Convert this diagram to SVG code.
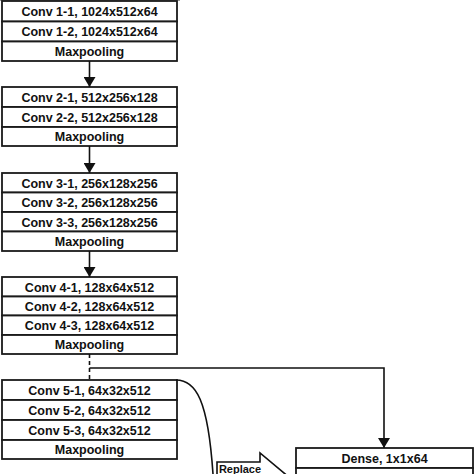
<svg xmlns="http://www.w3.org/2000/svg" width="474" height="474" viewBox="0 0 474 474">
<defs>
<style>
.box{fill:#fff;stroke:#1a1a1a;stroke-width:1.8}
.t{font-family:"Liberation Sans",Arial,sans-serif;font-weight:bold;font-size:12.5px;fill:#111;text-anchor:middle}
.ln{fill:none;stroke:#111;stroke-width:1.6}
</style>
<marker id="ah" viewBox="0 0 10 12" refX="10" refY="6" markerWidth="10" markerHeight="12" markerUnits="userSpaceOnUse" orient="auto">
<path d="M0,0 L10,6 L0,12 Z" fill="#111"/>
</marker>
</defs>
<rect x="0" y="0" width="180" height="1" fill="#999"/>
<g id="block1">
<rect class="box" x="2" y="1" width="175" height="20.5"/>
<rect class="box" x="2" y="21.5" width="175" height="20"/>
<rect class="box" x="2" y="41.5" width="175" height="19.5"/>
<text class="t" x="89.5" y="16">Conv 1-1, 1024x512x64</text>
<text class="t" x="89.5" y="36">Conv 1-2, 1024x512x64</text>
<text class="t" x="89.5" y="55.5">Maxpooling</text>
</g>
<g id="block2">
<rect class="box" x="2" y="87" width="175" height="20"/>
<rect class="box" x="2" y="107" width="175" height="20"/>
<rect class="box" x="2" y="127" width="175" height="19"/>
<text class="t" x="89.5" y="101.5">Conv 2-1, 512x256x128</text>
<text class="t" x="89.5" y="121.5">Conv 2-2, 512x256x128</text>
<text class="t" x="89.5" y="141">Maxpooling</text>
</g>
<g id="block3">
<rect class="box" x="2" y="173" width="175" height="19.5"/>
<rect class="box" x="2" y="192.5" width="175" height="19.5"/>
<rect class="box" x="2" y="212" width="175" height="19.5"/>
<rect class="box" x="2" y="231.5" width="175" height="19.5"/>
<text class="t" x="89.5" y="187.5">Conv 3-1, 256x128x256</text>
<text class="t" x="89.5" y="207">Conv 3-2, 256x128x256</text>
<text class="t" x="89.5" y="226.5">Conv 3-3, 256x128x256</text>
<text class="t" x="89.5" y="246">Maxpooling</text>
</g>
<g id="block4">
<rect class="box" x="2" y="277" width="175" height="19.5"/>
<rect class="box" x="2" y="296.5" width="175" height="19"/>
<rect class="box" x="2" y="315.5" width="175" height="19.5"/>
<rect class="box" x="2" y="335" width="175" height="19"/>
<text class="t" x="89.5" y="291.5">Conv 4-1, 128x64x512</text>
<text class="t" x="89.5" y="310.5">Conv 4-2, 128x64x512</text>
<text class="t" x="89.5" y="330">Conv 4-3, 128x64x512</text>
<text class="t" x="89.5" y="349">Maxpooling</text>
</g>
<g id="block5">
<rect class="box" x="2" y="380" width="175" height="20"/>
<rect class="box" x="2" y="400" width="175" height="20"/>
<rect class="box" x="2" y="420" width="175" height="20"/>
<rect class="box" x="2" y="440" width="175" height="19"/>
<text class="t" x="89.5" y="394.5">Conv 5-1, 64x32x512</text>
<text class="t" x="89.5" y="414.5">Conv 5-2, 64x32x512</text>
<text class="t" x="89.5" y="434.5">Conv 5-3, 64x32x512</text>
<text class="t" x="89.5" y="454">Maxpooling</text>
</g>
<g id="dense">
<rect class="box" x="296" y="448" width="177" height="20"/>
<rect class="box" x="296" y="468" width="177" height="12"/>
<text class="t" x="384.5" y="462.5">Dense, 1x1x64</text>
</g>
<g id="replace">
<path class="ln" d="M217,480 L217,462 L260,462 L260,453 L290,478" stroke-linejoin="miter"/>
<text class="t" x="240" y="472.5" style="font-size:11px">Replace</text>
</g>
<g id="connectors">
<line class="ln" x1="89.5" y1="61" x2="89.5" y2="87" marker-end="url(#ah)"/>
<line class="ln" x1="89.5" y1="146" x2="89.5" y2="173" marker-end="url(#ah)"/>
<line class="ln" x1="89.5" y1="251" x2="89.5" y2="277" marker-end="url(#ah)"/>
<line class="ln" x1="89.5" y1="354" x2="89.5" y2="380" stroke-dasharray="4,3"/>
<path class="ln" d="M89.5,368 L384,368 L384,448" marker-end="url(#ah)"/>
<path class="ln" d="M176,380 C196,380 208,400 213,474"/>
</g>
</svg>
